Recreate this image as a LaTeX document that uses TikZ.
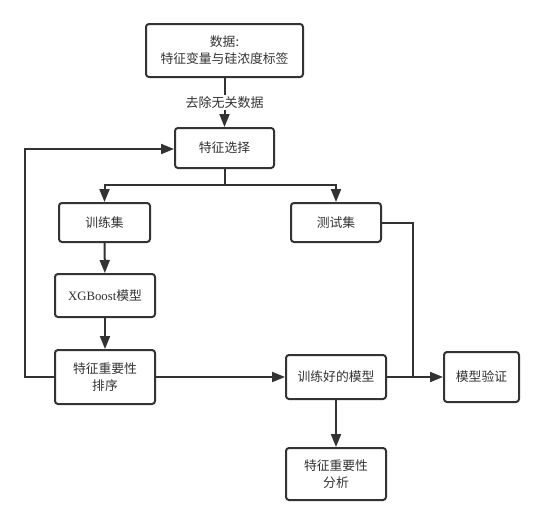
\documentclass[tikz,border=0pt]{standalone}
\usepackage{fontspec}
\setmainfont{Liberation Serif}
\newfontfamily\cjk{Noto Sans CJK SC}
\usetikzlibrary{arrows.meta}
\definecolor{ink}{HTML}{333333}
\tikzset{
  box/.style={draw=ink, line width=2pt, rounded corners=3pt, fill=white, align=center, text=ink, font=\cjk\fontsize{12.8}{17}\selectfont, inner sep=0pt},
  conn/.style={draw=ink, line width=2pt, -{Triangle[length=13pt,width=10pt]}},
  plain/.style={draw=ink, line width=2pt},
}
\begin{document}
\begin{tikzpicture}[x=1pt,y=-1pt]
\useasboundingbox[fill=white] (0,0) rectangle (544,525);
\node[box, minimum width=157pt, minimum height=53pt] (data) at (224.5,50.5) {数据:\\特征变量与硅浓度标签};
\node[box, minimum width=99pt, minimum height=40pt] (sel) at (224.5,148) {特征选择};
\node[box, minimum width=91pt, minimum height=39pt] (train) at (104.5,222.5) {训练集};
\node[box, minimum width=100pt, minimum height=43pt] (xgb) at (105,295.5) {\fontspec{Liberation Serif}XGBoost\cjk 模型};
\node[box, minimum width=100pt, minimum height=54pt] (rank) at (105,377) {特征重要性\\排序};
\node[box, minimum width=90pt, minimum height=39pt] (test) at (336,222.5) {测试集};
\node[box, minimum width=100pt, minimum height=44pt] (model) at (336,377) {训练好的模型};
\node[box, minimum width=75pt, minimum height=50pt] (valid) at (481.5,377) {模型验证};
\node[box, minimum width=100pt, minimum height=52pt] (ana) at (336,474) {特征重要性\\分析};

\coordinate (split) at (224.5,185);
\coordinate (fbl) at (25,377);
\coordinate (fbt) at (25,149);
\coordinate (tr) at (413,222.5);
\coordinate (join) at (413,377);

\draw[conn] (data) -- (sel) node[midway, fill=white, text=ink, font=\cjk\fontsize{13}{15}\selectfont, inner sep=1.5pt] {去除无关数据};
\draw[plain] (sel.south) -- (split);
\draw[conn] (split) -| (train.north);
\draw[conn] (split) -| (test.north);
\draw[conn] (train) -- (xgb);
\draw[conn] (xgb) -- (rank);
\draw[conn] (rank.west) -- (fbl) -- (fbt) -- (sel.west |- fbt);
\draw[conn] (rank) -- (model);
\draw[plain] (test.east) -- (tr) -- (join);
\draw[conn] (model) -- (valid);
\draw[conn] (model) -- (ana);
\end{tikzpicture}
\end{document}
